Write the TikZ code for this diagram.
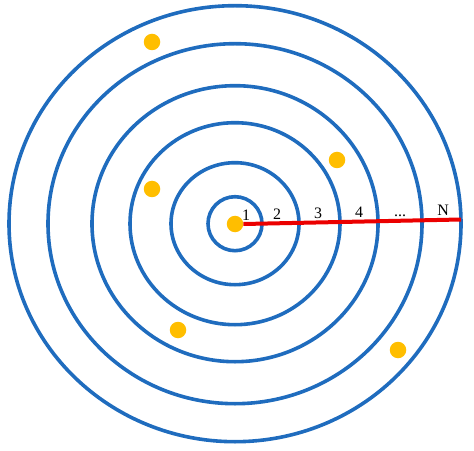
\documentclass[tikz,border=0pt]{standalone}
\usepackage{fontspec}
\setmainfont{Liberation Serif}
\usepackage{tikz}
\usetikzlibrary{positioning}
\usepackage{xcolor}
\definecolor{ring-blue}{RGB}{31,108,190}
\definecolor{dot-yellow}{RGB}{255,190,0}
\definecolor{ray-red}{RGB}{235,0,0}

\begin{document}
\begin{tikzpicture}[x=1bp, y=-1bp,
	ring/.style={draw=ring-blue, line width=3.6bp},
	dot/.style={circle, fill=dot-yellow, inner sep=0pt, minimum size=16.5bp},
	num/.style={font=\fontsize{16}{16}\selectfont, inner sep=0pt, anchor=base}]
	\useasboundingbox (0,0) rectangle (474,451);
	% rings
	\foreach \rx/\ry in {27/27, 64/61, 105/101, 143/138, 187/180, 226/218}
		\draw[ring] (235,223.7) ellipse ({\rx} and {\ry});
	% particles
	\node[dot] (hub) at (235,224) {};
	\node[dot] (p1) at (152,42) {};
	\node[dot] (p2) at (337,160) {};
	\node[dot] (p3) at (152,189) {};
	\node[dot] (p4) at (178,330) {};
	\node[dot] (p5) at (398,350) {};
	\coordinate (rim) at (461,219.5);
	\draw
	(hub.east) edge[-, line width=4bp, ray-red] (rim);
	% ring numbers
	\node[num] (n1) at (246,221) {1};
	\node[num] (n2) at (277,220) {2};
	\node[num] (n3) at (318,219) {3};
	\node[num] (n4) at (359,218) {4};
	\node[num] (ndots) at (400,217) {...};
	\node[num] (nN) at (443,216) {N};
\end{tikzpicture}
\end{document}
